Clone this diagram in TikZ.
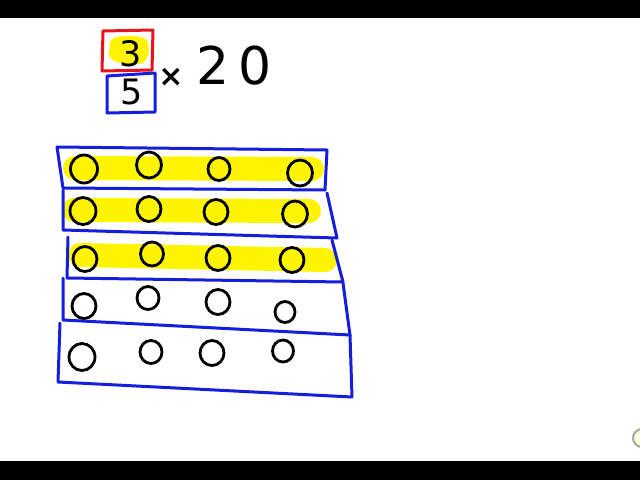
\documentclass[tikz,border=0pt]{standalone}
\usepackage{fontspec}
\setmainfont{DejaVu Sans}
\definecolor{penblue}{RGB}{20,30,220}
\definecolor{penred}{RGB}{230,20,30}
\definecolor{hl}{RGB}{255,245,0}
\begin{document}
\begin{tikzpicture}[x=1pt,y=-1pt,
  bluepen/.style={draw=penblue,line width=3pt,line join=round,line cap=round},
  redpen/.style={draw=penred,line width=3pt,line join=round,line cap=round},
  dot/.style={draw=black,line width=2.8pt},
  hlband/.style={draw=hl,line width=24pt,line cap=round},
  digit/.style={inner sep=0pt,font=\fontsize{#1}{#1}\selectfont}]
\useasboundingbox (0,0) rectangle (640,480);
\fill[white] (0,0) rectangle (640,480);
\fill[black] (0,0) rectangle (640,18);
\fill[black] (0,461) rectangle (640,480);
% cursor icon at right edge
\draw[gray!70,line width=2pt,fill=yellow!15] (642,438) circle (9);
% fraction
\fill[hl] (110,42) .. controls (112,34) and (140,34) .. (147,40) .. controls (151,50) and (148,62) .. (140,64) .. controls (125,66) and (110,62) .. (109,55) -- cycle;
\draw[redpen] (103,31) -- (153,30) -- (152,70) -- (102,71) -- cycle;
\draw[bluepen] (107,76) -- (155,73) -- (155,112) -- (107,113) -- cycle;
\node[digit=35] (three) at (131,54) {3};
\node[digit=35] (five) at (132,92) {5};
\node[digit=30,font=\fontsize{30}{30}\bfseries] (times) at (171,77) {×};
\node[digit=52] (twenty) at (234,66) {2\,0};
% highlight bands
\draw[hlband] (75,168) -- (312,169);
\draw[hlband] (74,210) -- (309,211);
\draw[hlband] (80,255) -- (325,260);
% rows
\draw[bluepen] (57,147) -- (327,150) -- (325,190) -- (63,188) -- cycle;
\draw[bluepen] (63,190) -- (63,230) -- (337,238) -- (327,193);
\draw[bluepen] (68,237) -- (67,278) -- (343,282) -- (332,240);
\draw[bluepen] (63,278) -- (63,320) -- (350,335) -- (343,283);
\draw[bluepen] (60,323) -- (58,382) -- (352,397) -- (350,335);
% circles
\foreach \cx/\cy/\r in {84/169/13.5,149/165/12.5,219/169/11,300/173/12.5,
  83/211/13,149/209/12,216/212/12,295/214/12.5,
  85/259/12,152/254/11.5,218/258/12,292/260/12,
  84/306/12,148/298/11,218/302/12,285/312/10,
  82/357/13,151/352/11,212/353/12,283/351/10.5}
  \draw[dot] (\cx,\cy) ellipse [x radius=\r,y radius=\r+0.5];
\end{tikzpicture}
\end{document}
